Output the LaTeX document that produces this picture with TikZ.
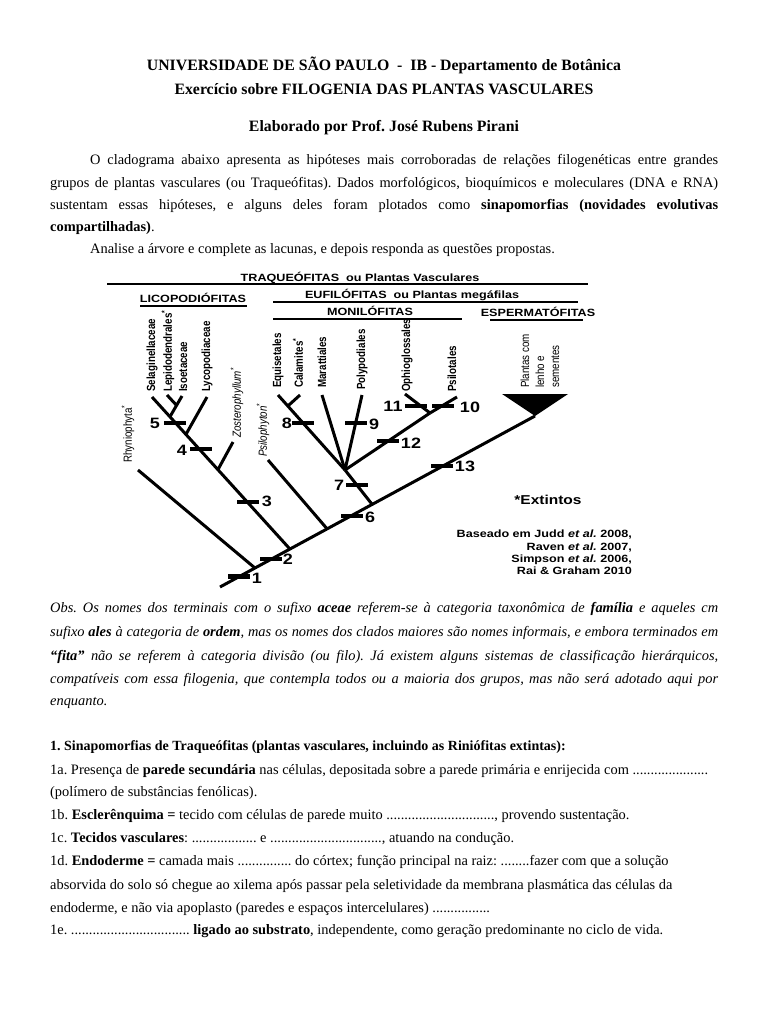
\documentclass[tikz,border=0pt]{standalone}
\usepackage{fontspec}
\usetikzlibrary{calc}
\setmainfont{Liberation Serif}
\newfontfamily\hsans[FakeStretch=1.2]{Liberation Sans}
\newfontfamily\vsans[FakeStretch=0.83]{Liberation Sans}
\newcommand\bodyfs{\fontsize{14.4}{17}\selectfont}
\newcommand\titlefs{\fontsize{15.8}{18}\selectfont}
\newcommand\jl[2]{\hbox to #1{#2}}
\frenchspacing
\begin{document}
\frenchspacing
\begin{tikzpicture}[x=1pt,y=-1pt,
  txt/.style={font=\bodyfs, inner sep=0, anchor=base west},
  ttl/.style={font=\titlefs\bfseries, inner sep=0, anchor=base},
  obs/.style={font=\bodyfs\itshape, inner sep=0, anchor=base west},
  branch/.style={line width=3pt},
  tickbar/.style={line width=4.5pt},
  rule/.style={line width=2pt},
  hdr/.style={font=\hsans\bfseries\fontsize{10.5}{12}\selectfont, inner sep=0, anchor=base},
  num/.style={font=\hsans\bfseries\fontsize{15}{15}\selectfont, inner sep=0},
  lab/.style={font=\vsans\bfseries\fontsize{11.8}{12}\selectfont, rotate=90, anchor=west, inner sep=0},
  labr/.style={font=\vsans\fontsize{11.8}{15}\selectfont, rotate=90, anchor=west, inner sep=0},
  labi/.style={font=\vsans\itshape\fontsize{11.8}{12}\selectfont, rotate=90, anchor=west, inner sep=0},
  refs/.style={font=\hsans\bfseries\fontsize{10.5}{12}\selectfont, inner sep=0, anchor=base east}
]
\useasboundingbox (0,0) rectangle (768,1024);
\fill[white] (0,0) rectangle (768,1024);

% ---------- title ----------
\node[ttl] (t1) at (384,71) {UNIVERSIDADE DE SÃO PAULO \ - \ IB - Departamento de Botânica};
\node[ttl] (t2) at (384,95) {Exercício sobre FILOGENIA DAS PLANTAS VASCULARES};
\node[ttl] (t3) at (384,132) {Elaborado por Prof. José Rubens Pirani};

% ---------- intro paragraph ----------
\node[txt] (p1) at (90,165) {\jl{628pt}{O cladograma abaixo apresenta as hipóteses mais corroboradas de relações filogenéticas entre grandes}};
\node[txt] (p2) at (50,188) {\jl{668pt}{grupos de plantas vasculares (ou Traqueófitas). Dados morfológicos, bioquímicos e moleculares (DNA e RNA)}};
\node[txt] (p3) at (50,210) {\jl{668pt}{sustentam essas hipóteses, e alguns deles foram plotados como \textbf{sinapomorfias (novidades evolutivas}}};
\node[txt] (p4) at (50,232) {\textbf{compartilhadas)}.};
\node[txt] (p5) at (90,253) {Analise a árvore e complete as lacunas, e depois responda as questões propostas.};

% ---------- group headers ----------
\node[hdr] (hTraq) at (360,281) {TRAQUEÓFITAS\ \ ou Plantas Vasculares};
\coordinate (rTa) at (107,284); \coordinate (rTb) at (588,284);
\draw[rule] (rTa) -- (rTb);
\node[hdr] (hEuf) at (412,298) {EUFILÓFITAS\ \ ou Plantas megáfilas};
\coordinate (rEa) at (273,302); \coordinate (rEb) at (578,302);
\draw[rule] (rEa) -- (rEb);
\node[hdr] (hLic) at (193,302) {LICOPODIÓFITAS};
\coordinate (rLa) at (140,305.5); \coordinate (rLb) at (247,305.5);
\draw[rule] (rLa) -- (rLb);
\node[hdr] (hMon) at (370,315) {MONILÓFITAS};
\coordinate (rMa) at (273,318.5); \coordinate (rMb) at (462,318.5);
\draw[rule] (rMa) -- (rMb);
\node[hdr] (hEsp) at (538,316) {ESPERMATÓFITAS};
\coordinate (rSa) at (490,319.5); \coordinate (rSb) at (583,319.5);
\draw[rule] (rSa) -- (rSb);

% ---------- tree coordinates ----------
\coordinate (root) at (220,587);
\coordinate (apex) at (535,416);
\coordinate (j1) at ($(root)!0.111!(apex)$);
\coordinate (j2) at ($(root)!0.222!(apex)$);
\coordinate (j3) at ($(root)!0.340!(apex)$);
\coordinate (j4) at ($(root)!0.483!(apex)$);
\coordinate (rhy) at (138,470);
\coordinate (sel) at (152,397);
\coordinate (jz) at ($(j2)!0.522!(sel)$);
\coordinate (zos) at (233,442);
\coordinate (jl) at ($(j2)!0.754!(sel)$);
\coordinate (lyc) at (207,397);
\coordinate (ji) at ($(j2)!0.87!(sel)$);
\coordinate (iso) at (182,396);
\coordinate (jp) at ($(ji)!0.55!(iso)$);
\coordinate (lep) at (167,395);
\coordinate (psy) at (268,460);
\coordinate (m) at (345,470);
\coordinate (equ) at (278,395);
\coordinate (jc) at ($(m)!0.853!(equ)$);
\coordinate (cal) at (300,395);
\coordinate (mar) at (322,395);
\coordinate (pol) at (362,395);
\coordinate (pj) at (430,413);
\coordinate (pso) at (457,397);
\coordinate (oph) at (405,394);
\coordinate (trl) at (502,394);
\coordinate (trr) at (568,394);

% ---------- branches ----------
\draw[branch] (root) -- (apex);
\fill (trl) -- (trr) -- (apex) -- cycle;
\draw[branch] (j1) -- (rhy);
\draw[branch] (j2) -- (sel);
\draw[branch] (jz) -- (zos);
\draw[branch] (jl) -- (lyc);
\draw[branch] (ji) -- (iso);
\draw[branch] (jp) -- (lep);
\draw[branch] (j3) -- (psy);
\draw[branch] (j4) -- (m);
\draw[branch] (m) -- (equ);
\draw[branch] (jc) -- (cal);
\draw[branch] (m) -- (mar);
\draw[branch] (m) -- (pol);
\draw[branch] (m) -- (pj);
\draw[branch] (pj) -- (pso);
\draw[branch] (pj) -- (oph);

% ---------- synapomorphy ticks ----------
\foreach \n/\x/\y in {1/239/576.5, 2/271/559, 3/248/502, 4/201/449, 5/175/423, 6/352/516,
                      7/357/485, 8/303/423, 9/356/423, 10/443/406, 11/416/406, 12/388/441, 13/442/466}{
  \coordinate (k\n a) at (\x-11,\y);
  \coordinate (k\n b) at (\x+11,\y);
  \draw[tickbar] (k\n a) -- (k\n b);
}
\node[num] (n1) at (257,578) {1};
\node[num] (n2) at (288,559) {2};
\node[num] (n3) at (267,501) {3};
\node[num] (n4) at (182,450) {4};
\node[num] (n5) at (155,423) {5};
\node[num] (n6) at (370,517) {6};
\node[num] (n7) at (339,485) {7};
\node[num] (n8) at (287,423) {8};
\node[num] (n9) at (374,424) {9};
\node[num] (n10) at (470,407) {10};
\node[num] (n11) at (393,406) {11};
\node[num] (n12) at (411,443) {12};
\node[num] (n13) at (465,466) {13};

% ---------- terminal labels ----------
\node[labr] (lRhy) at (128,463) {Rhyniophyta\textsuperscript{*}};
\node[lab] (lSel) at (152,392) {Selaginellaceae};
\node[lab] (lLep) at (168,392) {Lepidodendrales\textsuperscript{*}};
\node[lab] (lIso) at (183,392) {Isoetaceae};
\node[lab] (lLyc) at (207,392) {Lycopodiaceae};
\node[labi] (lZos) at (237,438) {Zosterophyllum\textsuperscript{\upshape *}};
\node[labi] (lPsy) at (263,457) {Psilophyton\textsuperscript{\upshape *}};
\node[lab] (lEqu) at (278,388) {Equisetales};
\node[lab] (lCal) at (298,388) {Calamites\textsuperscript{*}};
\node[lab] (lMar) at (322,388) {Marattiales};
\node[lab] (lPol) at (362,390) {Polypodiales};
\node[lab] (lOph) at (407,392) {Ophioglossales};
\node[lab] (lPso) at (452,392) {Psilotales};
\node[labr, align=left] (lSpe) at (540,388) {Plantas com\\lenho e\\sementes};

% ---------- notes ----------
\node[font=\hsans\bfseries\fontsize{12.9}{14}\selectfont, inner sep=0, anchor=base] (ext) at (548,504.5) {*Extintos};
\node[refs] (b1) at (632,537) {Baseado em Judd \textit{et al.} 2008,};
\node[refs] (b2) at (632,550) {Raven \textit{et al.} 2007,};
\node[refs] (b3) at (632,562) {Simpson \textit{et al.} 2006,};
\node[refs] (b4) at (632,574) {Rai \& Graham 2010};

% ---------- Obs paragraph ----------
\node[obs] (o1) at (50,612) {\jl{668pt}{Obs. Os nomes dos terminais com o sufixo \textbf{aceae} referem-se à categoria taxonômica de \textbf{família} e aqueles cm}};
\node[obs] (o2) at (50,636) {\jl{668pt}{sufixo \textbf{ales} à categoria de \textbf{ordem}, mas os nomes dos clados maiores são nomes informais, e embora terminados em}};
\node[obs] (o3) at (50,660) {\jl{668pt}{\textbf{“fita”} não se referem à categoria divisão (ou filo). Já existem alguns sistemas de classificação hierárquicos,}};
\node[obs] (o4) at (50,683) {\jl{668pt}{compatíveis com essa filogenia, que contempla todos ou a maioria dos grupos, mas não será adotado aqui por}};
\node[obs] (o5) at (50,705) {enquanto.};

% ---------- questions ----------
\node[txt, font=\fontsize{14}{17}\selectfont\bfseries] (q0) at (50,750) {1. Sinapomorfias de Traqueófitas (plantas vasculares, incluindo as Riniófitas extintas):};
\node[txt] (q1) at (50,774) {1a. Presença de \textbf{parede secundária} nas células, depositada sobre a parede primária e enrijecida com .....................};
\node[txt] (q2) at (50,796) {(polímero de substâncias fenólicas).};
\node[txt] (q3) at (50,819) {1b. \textbf{Esclerênquima =} tecido com células de parede muito .............................., provendo sustentação.};
\node[txt] (q4) at (50,842) {1c. \textbf{Tecidos vasculares}: .................. e ..............................., atuando na condução.};
\node[txt] (q5) at (50,865) {1d. \textbf{Endoderme =} camada mais ............... do córtex; função principal na raiz: ........fazer com que a solução};
\node[txt] (q6) at (50,889) {absorvida do solo só chegue ao xilema após passar pela seletividade da membrana plasmática das células da};
\node[txt] (q7) at (50,912) {endoderme, e não via apoplasto (paredes e espaços intercelulares) ................};
\node[txt] (q8) at (50,934) {1e. ................................. \textbf{ligado ao substrato}, independente, como geração predominante no ciclo de vida.};
\end{tikzpicture}
\end{document}
